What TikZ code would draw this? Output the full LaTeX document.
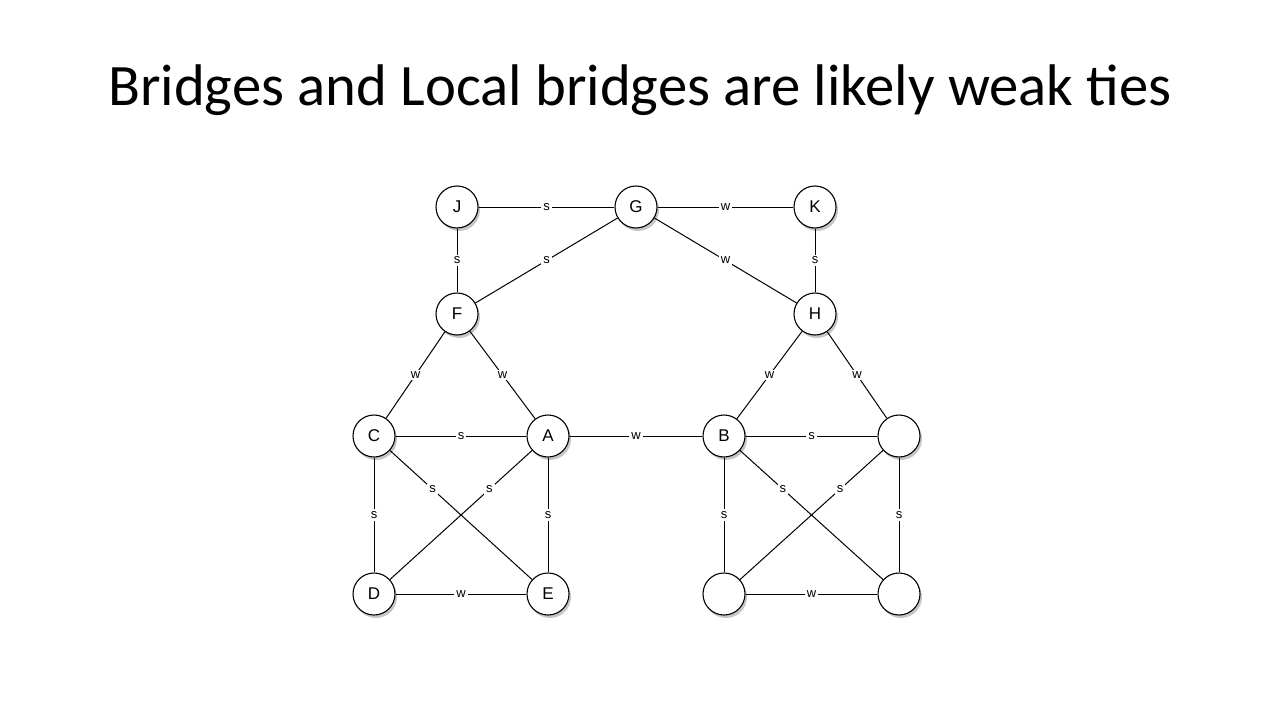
\documentclass[tikz,border=0pt]{standalone}
\usepackage{fontspec}
\setmainfont{Liberation Sans}
\newfontfamily\titlefont{Carlito}
\usetikzlibrary{shadows}
\begin{document}
\begin{tikzpicture}[x=1pt,y=-1pt,
  vtx/.style={circle,draw,line width=1.1pt,fill=white,minimum size=42pt,inner sep=0pt,font=\fontsize{17}{17}\selectfont,drop shadow={shadow xshift=2pt,shadow yshift=-3pt,opacity=0.45}},
  lbl/.style={fill=white,inner sep=2pt,font=\fontsize{13}{13}\selectfont},
  ed/.style={line width=1pt}]
\useasboundingbox (0,0) rectangle (1280,720);
\node[font=\titlefont\fontsize{58.7}{58.7}\selectfont] (title) at (640,90) {Bridges and Local bridges are likely weak ties};
\node[vtx] (J) at (457,207) {J};
\node[vtx] (G) at (636,207) {G};
\node[vtx] (K) at (815,207) {K};
\node[vtx] (F) at (457,314) {F};
\node[vtx] (H) at (815,314) {H};
\node[vtx] (C) at (374,436) {C};
\node[vtx] (A) at (548,436) {A};
\node[vtx] (B) at (724,436) {B};
\node[vtx] (R1) at (899,436) {};
\node[vtx] (D) at (374,594) {D};
\node[vtx] (E) at (548,594) {E};
\node[vtx] (R2) at (724,594) {};
\node[vtx] (R3) at (899,594) {};
\draw[ed] (J) -- node[lbl]{s} (G);
\draw[ed] (G) -- node[lbl]{w} (K);
\draw[ed] (J) -- node[lbl]{s} (F);
\draw[ed] (K) -- node[lbl]{s} (H);
\draw[ed] (G) -- node[lbl]{s} (F);
\draw[ed] (G) -- node[lbl]{w} (H);
\draw[ed] (F) -- node[lbl]{w} (C);
\draw[ed] (F) -- node[lbl]{w} (A);
\draw[ed] (H) -- node[lbl]{w} (B);
\draw[ed] (H) -- node[lbl]{w} (R1);
\draw[ed] (C) -- node[lbl]{s} (A);
\draw[ed] (A) -- node[lbl]{w} (B);
\draw[ed] (B) -- node[lbl]{s} (R1);
\draw[ed] (C) -- node[lbl]{s} (D);
\draw[ed] (A) -- node[lbl]{s} (E);
\draw[ed] (B) -- node[lbl]{s} (R2);
\draw[ed] (R1) -- node[lbl]{s} (R3);
\draw[ed] (D) -- node[lbl]{w} (E);
\draw[ed] (R2) -- node[lbl]{w} (R3);
\draw[ed] (C) -- node[lbl,pos=0.3]{s} (E);
\draw[ed] (A) -- node[lbl,pos=0.3]{s} (D);
\draw[ed] (B) -- node[lbl,pos=0.3]{s} (R3);
\draw[ed] (R1) -- node[lbl,pos=0.3]{s} (R2);
\end{tikzpicture}
\end{document}
